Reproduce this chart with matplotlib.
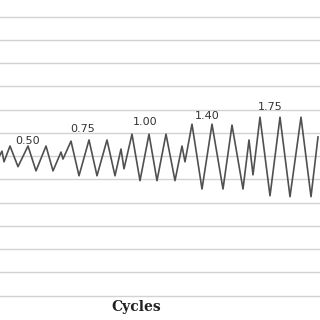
import matplotlib
matplotlib.use("Agg")
import matplotlib.pyplot as plt

# turning points of the loading history (time, displacement)
t = [0.0, 0.2, 0.4, 1.0, 1.8, 2.8, 3.6, 4.6, 5.3, 6.1, 6.3,
     7.1, 7.9, 8.9, 9.7, 10.7, 11.5, 12.1, 12.4,
     13.2, 14.0, 14.9, 15.7, 16.6, 17.5, 18.2, 18.5,
     19.2, 20.2, 21.2, 22.3, 23.2, 24.3, 24.9, 25.3,
     26.0, 27.0, 28.0, 29.0, 30.1, 31.1, 31.8]
disp = [0.05, 0.22, -0.24, 0.44, -0.45, 0.44, -0.63, 0.44, -0.63, 0.18, -0.12,
        0.65, -0.84, 0.70, -0.84, 0.70, -0.84, 0.31, -0.54,
        0.95, -1.05, 0.95, -1.05, 0.95, -1.05, 0.44, -0.24,
        1.38, -1.41, 1.38, -1.41, 1.34, -1.41, 0.70, -0.80,
        1.68, -1.70, 1.68, -1.74, 1.68, -1.74, 0.83]

level_labels = ["0.50", "0.75", "1.00", "1.40", "1.75"]
label_x = [2.8, 8.3, 14.5, 20.7, 27.0]
label_y = [0.66, 1.17, 1.47, 1.73, 2.11]

fig = plt.figure(figsize=(3.2, 3.2), dpi=100)
ax = fig.add_axes([0, 0.07, 1, 0.93])

ax.plot(t, disp, color="#505050", linewidth=1.2)

for lab, x, y in zip(level_labels, label_x, label_y):
    ax.text(x, y, lab, ha="center", va="center", fontsize=8,
            color="#333333", family="DejaVu Sans")

ax.set_xlim(0, 32)
ax.set_ylim(-6.08, 6.72)
ax.set_yticks(range(-6, 7))
ax.grid(axis="y", color="#d2d2d2", linewidth=1)
ax.tick_params(left=False, bottom=False, labelleft=False, labelbottom=False)
for s in ax.spines.values():
    s.set_visible(False)

fig.text(0.425, 0.04, "Cycles", ha="center", va="center",
         family="DejaVu Serif", fontweight="bold", fontsize=10,
         color="#222222")

fig.savefig("out.png", dpi=100)
